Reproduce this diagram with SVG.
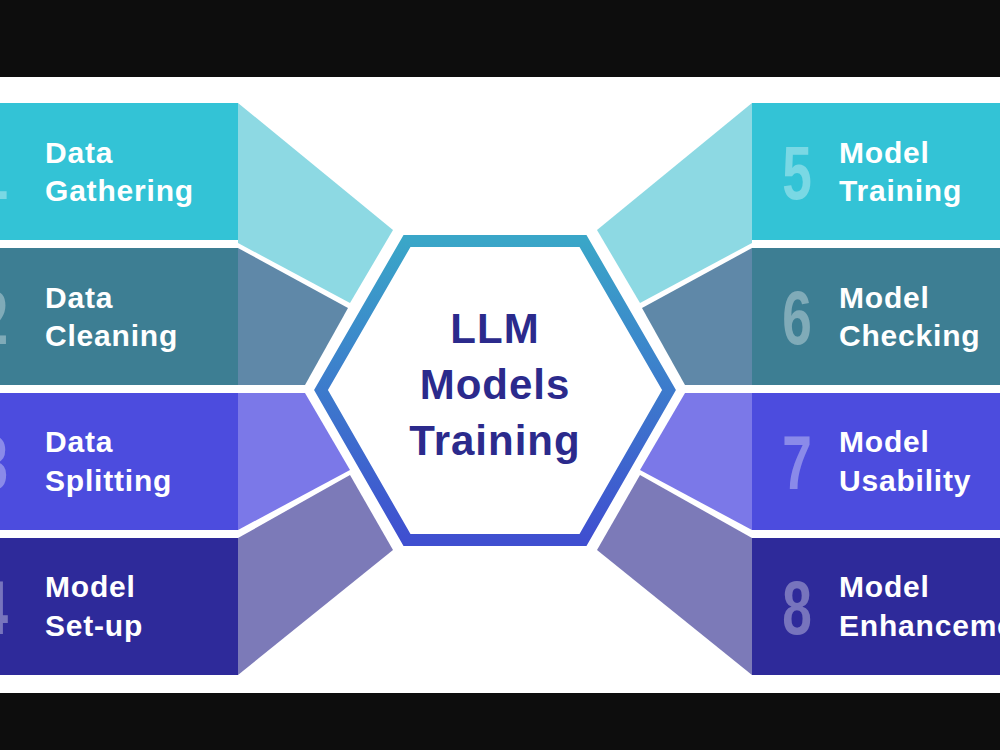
<svg xmlns="http://www.w3.org/2000/svg" width="1000" height="750" viewBox="0 0 1000 750">
<defs>
<linearGradient id="hexg" x1="0" y1="0" x2="0" y2="1">
<stop offset="0" stop-color="#3AA6C8"/><stop offset="1" stop-color="#3F4FD0"/>
</linearGradient>
</defs>
<style>
.lbl{font-family:"Liberation Sans",Arial,sans-serif;font-weight:bold;font-size:30px;letter-spacing:0.8px;fill:#fff}
.num{font-family:"Liberation Sans Narrow","Liberation Sans",sans-serif;font-weight:bold;font-size:76px;fill:#fff;fill-opacity:0.35}
.ctr{font-family:"Liberation Sans",Arial,sans-serif;font-weight:bold;font-size:42px;letter-spacing:1px;fill:#2B2A8C;text-anchor:middle}
</style>
<rect width="1000" height="750" fill="#0d0d0d"/>
<rect y="77" width="1000" height="616" fill="#fff"/>
<g id="connectors">
<polygon points="238,103 393,230 350,303 238,243" fill="#8DD9E3"/>
<polygon points="238,248 348,308 305,385 238,385" fill="#5F88A8"/>
<polygon points="238,393 305,393 350,470 238,530" fill="#7B78E8"/>
<polygon points="238,538 350,475 393,550 238,675" fill="#7C7AB8"/>
<polygon points="752,103 597,230 640,303 752,243" fill="#8DD9E3"/>
<polygon points="752,248 642,308 685,385 752,385" fill="#5F88A8"/>
<polygon points="752,393 685,393 640,470 752,530" fill="#7B78E8"/>
<polygon points="752,538 640,475 597,550 752,675" fill="#7C7AB8"/>
</g>
<g id="hex">
<polygon points="403,236 587,236 676,390 587,545 403,545 314,390" fill="#fff" stroke="#fff" stroke-width="12"/>
<polygon points="407,241 583,241 669,390 583,540 407,540 321,390" fill="#fff" stroke="url(#hexg)" stroke-width="12"/>
<text class="ctr" x="495" y="343">LLM</text>
<text class="ctr" x="495" y="399">Models</text>
<text class="ctr" x="495" y="455">Training</text>
</g>
<g id="n1"><rect x="0" y="103" width="238" height="137" fill="#33C3D6"/><text class="num" transform="translate(8 199) scale(0.7 1)" text-anchor="end">1</text><text class="lbl" x="45" y="163">Data</text><text class="lbl" x="45" y="201">Gathering</text></g>
<g id="n2"><rect x="0" y="248" width="238" height="137" fill="#3D7E93"/><text class="num" transform="translate(8 344) scale(0.7 1)" text-anchor="end">2</text><text class="lbl" x="45" y="308">Data</text><text class="lbl" x="45" y="346">Cleaning</text></g>
<g id="n3"><rect x="0" y="393" width="238" height="137" fill="#4C4CDE"/><text class="num" transform="translate(8 489) scale(0.7 1)" text-anchor="end">3</text><text class="lbl" x="45" y="452">Data</text><text class="lbl" x="45" y="491">Splitting</text></g>
<g id="n4"><rect x="0" y="538" width="238" height="137" fill="#2E2A9A"/><text class="num" transform="translate(8 634) scale(0.7 1)" text-anchor="end">4</text><text class="lbl" x="45" y="597">Model</text><text class="lbl" x="45" y="636">Set-up</text></g>
<g id="n5"><rect x="752" y="103" width="248" height="137" fill="#33C3D6"/><text class="num" transform="translate(797 199) scale(0.7 1)" text-anchor="middle">5</text><text class="lbl" x="839" y="163">Model</text><text class="lbl" x="839" y="201">Training</text></g>
<g id="n6"><rect x="752" y="248" width="248" height="137" fill="#3D7E93"/><text class="num" transform="translate(797 344) scale(0.7 1)" text-anchor="middle">6</text><text class="lbl" x="839" y="308">Model</text><text class="lbl" x="839" y="346">Checking</text></g>
<g id="n7"><rect x="752" y="393" width="248" height="137" fill="#4C4CDE"/><text class="num" transform="translate(797 489) scale(0.7 1)" text-anchor="middle">7</text><text class="lbl" x="839" y="452">Model</text><text class="lbl" x="839" y="491">Usability</text></g>
<g id="n8"><rect x="752" y="538" width="248" height="137" fill="#2E2A9A"/><text class="num" transform="translate(797 634) scale(0.7 1)" text-anchor="middle">8</text><text class="lbl" x="839" y="597">Model</text><text class="lbl" x="839" y="636">Enhancement</text></g>
</svg>
